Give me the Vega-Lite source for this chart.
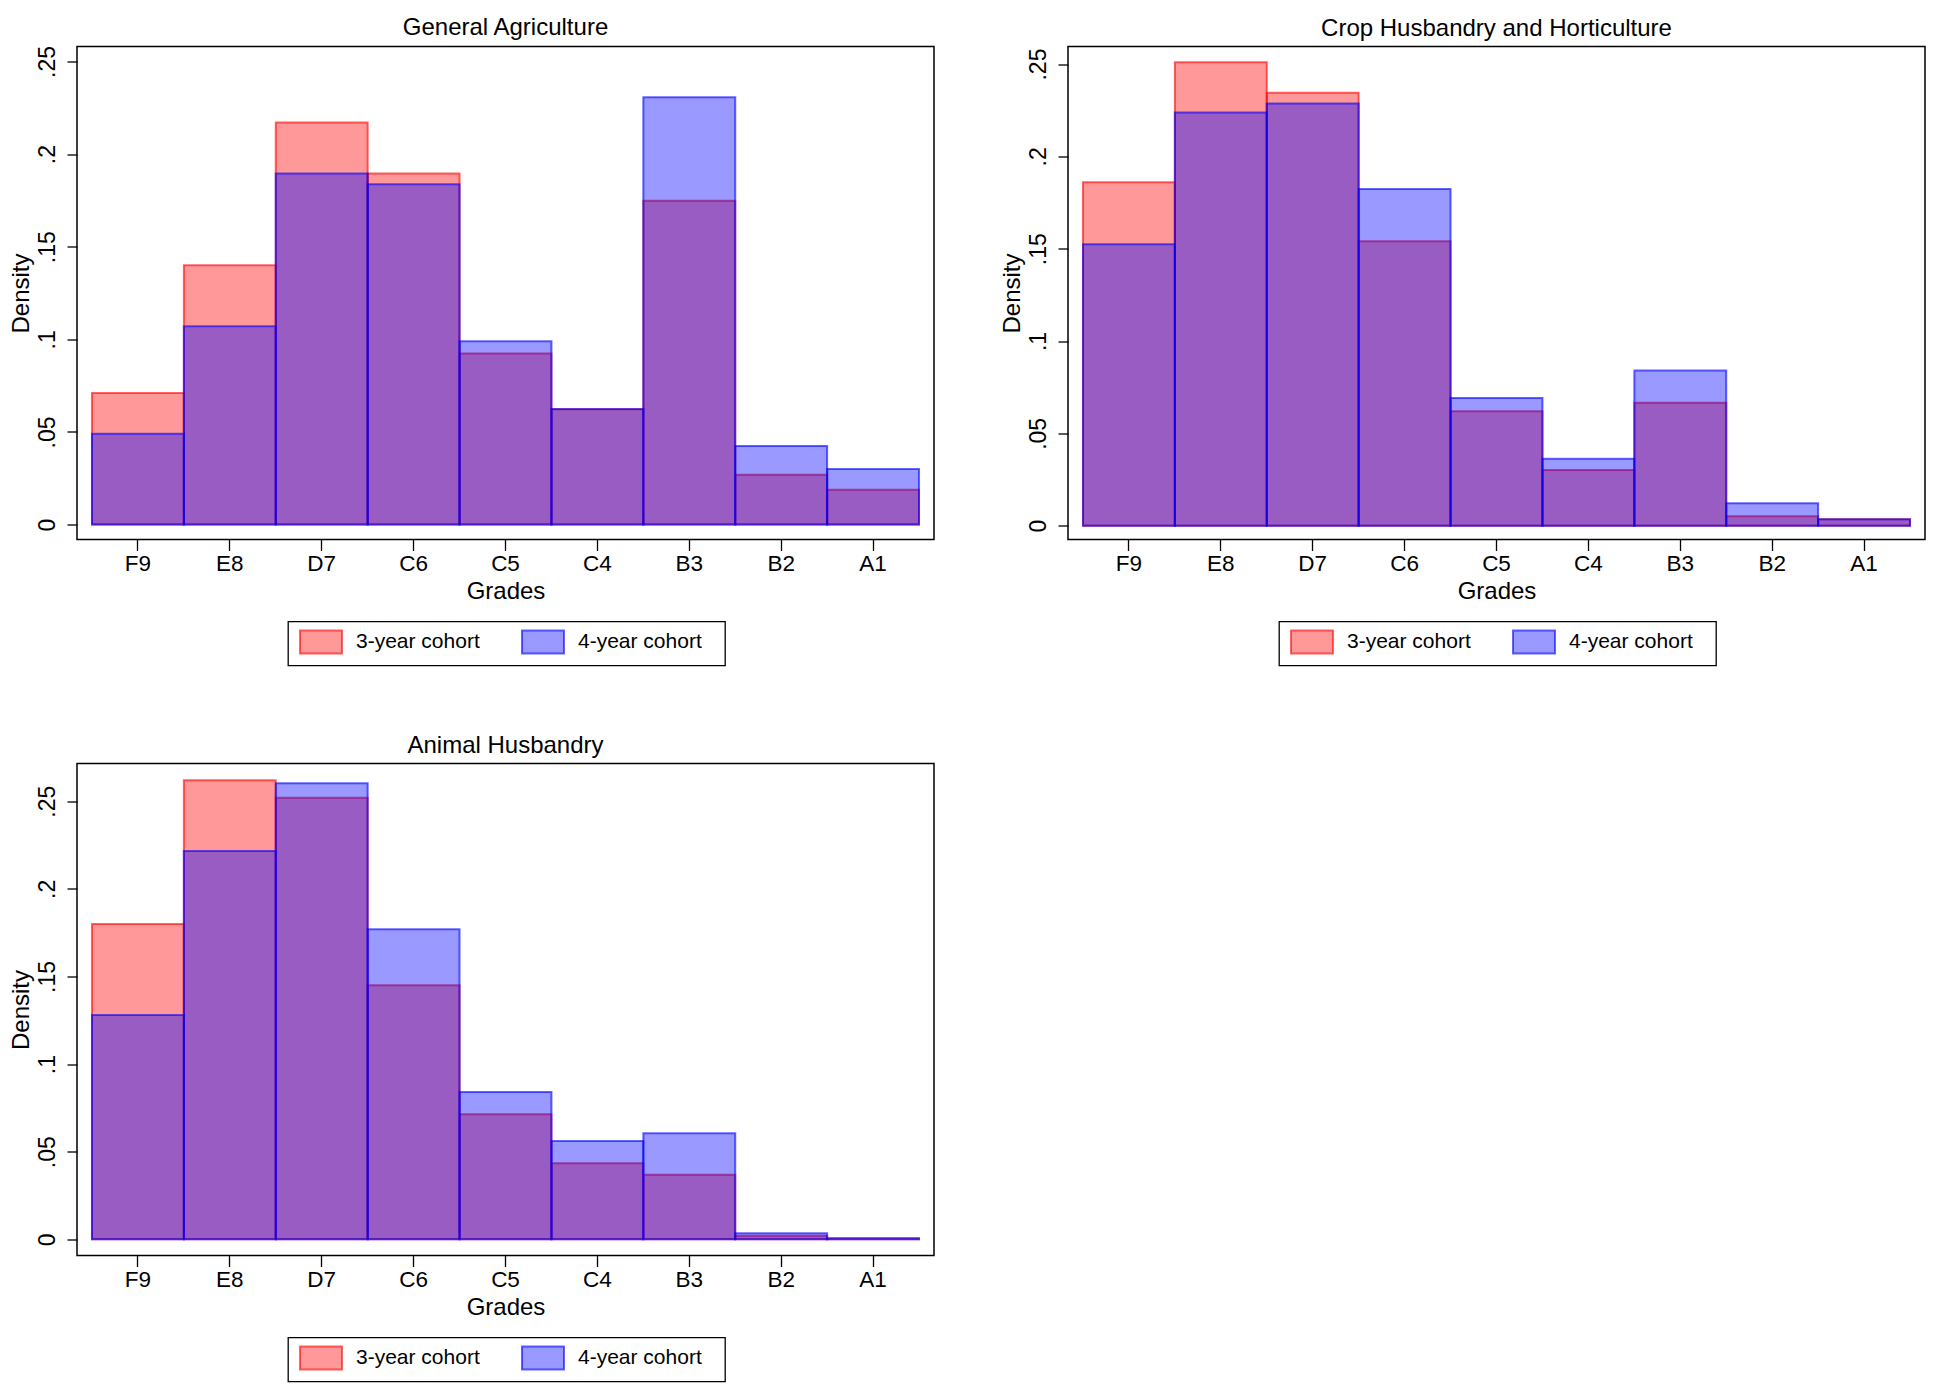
{
  "$schema": "https://vega.github.io/schema/vega-lite/v6.json",
  "description": "Density histograms of grades for the 3-year and 4-year cohorts, three subjects.",
  "padding": {"left": 8, "top": 14.5, "right": 5, "bottom": 5},
  "config": {
    "font": "Liberation Sans",
    "view": {"stroke": "black", "strokeWidth": 1.5, "fill": "white"},
    "axis": {
      "labelColor": "black",
      "titleColor": "black",
      "tickColor": "black",
      "tickWidth": 1.3,
      "labelFontSize": 22.5,
      "titleFontSize": 24,
      "titleFontWeight": "normal",
      "domain": false,
      "grid": false
    },
    "axisY": {"labelFontSize": 23},
    "title": {"fontSize": 24, "fontWeight": "normal", "color": "black", "anchor": "middle", "baseline": "alphabetic", "offset": 5.5},
    "legend": {"labelColor": "black"}
  },
  "datasets": {
    "hist": [
      {"subject": "General Agriculture", "grade": "F9", "cohort": "3-year cohort", "density": 0.071},
      {"subject": "General Agriculture", "grade": "E8", "cohort": "3-year cohort", "density": 0.140},
      {"subject": "General Agriculture", "grade": "D7", "cohort": "3-year cohort", "density": 0.217},
      {"subject": "General Agriculture", "grade": "C6", "cohort": "3-year cohort", "density": 0.1895},
      {"subject": "General Agriculture", "grade": "C5", "cohort": "3-year cohort", "density": 0.0923},
      {"subject": "General Agriculture", "grade": "C4", "cohort": "3-year cohort", "density": 0.0622},
      {"subject": "General Agriculture", "grade": "B3", "cohort": "3-year cohort", "density": 0.1748},
      {"subject": "General Agriculture", "grade": "B2", "cohort": "3-year cohort", "density": 0.0268},
      {"subject": "General Agriculture", "grade": "A1", "cohort": "3-year cohort", "density": 0.0188},
      {"subject": "General Agriculture", "grade": "F9", "cohort": "4-year cohort", "density": 0.049},
      {"subject": "General Agriculture", "grade": "E8", "cohort": "4-year cohort", "density": 0.107},
      {"subject": "General Agriculture", "grade": "D7", "cohort": "4-year cohort", "density": 0.1895},
      {"subject": "General Agriculture", "grade": "C6", "cohort": "4-year cohort", "density": 0.1837},
      {"subject": "General Agriculture", "grade": "C5", "cohort": "4-year cohort", "density": 0.099},
      {"subject": "General Agriculture", "grade": "C4", "cohort": "4-year cohort", "density": 0.0624},
      {"subject": "General Agriculture", "grade": "B3", "cohort": "4-year cohort", "density": 0.2307},
      {"subject": "General Agriculture", "grade": "B2", "cohort": "4-year cohort", "density": 0.0424},
      {"subject": "General Agriculture", "grade": "A1", "cohort": "4-year cohort", "density": 0.0299},
      {"subject": "Crop Husbandry and Horticulture", "grade": "F9", "cohort": "3-year cohort", "density": 0.186},
      {"subject": "Crop Husbandry and Horticulture", "grade": "E8", "cohort": "3-year cohort", "density": 0.251},
      {"subject": "Crop Husbandry and Horticulture", "grade": "D7", "cohort": "3-year cohort", "density": 0.2345},
      {"subject": "Crop Husbandry and Horticulture", "grade": "C6", "cohort": "3-year cohort", "density": 0.154},
      {"subject": "Crop Husbandry and Horticulture", "grade": "C5", "cohort": "3-year cohort", "density": 0.0619},
      {"subject": "Crop Husbandry and Horticulture", "grade": "C4", "cohort": "3-year cohort", "density": 0.0301},
      {"subject": "Crop Husbandry and Horticulture", "grade": "B3", "cohort": "3-year cohort", "density": 0.0665},
      {"subject": "Crop Husbandry and Horticulture", "grade": "B2", "cohort": "3-year cohort", "density": 0.0051},
      {"subject": "Crop Husbandry and Horticulture", "grade": "A1", "cohort": "3-year cohort", "density": 0.0034},
      {"subject": "Crop Husbandry and Horticulture", "grade": "F9", "cohort": "4-year cohort", "density": 0.1524},
      {"subject": "Crop Husbandry and Horticulture", "grade": "E8", "cohort": "4-year cohort", "density": 0.2238},
      {"subject": "Crop Husbandry and Horticulture", "grade": "D7", "cohort": "4-year cohort", "density": 0.2286},
      {"subject": "Crop Husbandry and Horticulture", "grade": "C6", "cohort": "4-year cohort", "density": 0.1823},
      {"subject": "Crop Husbandry and Horticulture", "grade": "C5", "cohort": "4-year cohort", "density": 0.0692},
      {"subject": "Crop Husbandry and Horticulture", "grade": "C4", "cohort": "4-year cohort", "density": 0.0362},
      {"subject": "Crop Husbandry and Horticulture", "grade": "B3", "cohort": "4-year cohort", "density": 0.084},
      {"subject": "Crop Husbandry and Horticulture", "grade": "B2", "cohort": "4-year cohort", "density": 0.0121},
      {"subject": "Crop Husbandry and Horticulture", "grade": "A1", "cohort": "4-year cohort", "density": 0.0034},
      {"subject": "Animal Husbandry", "grade": "F9", "cohort": "3-year cohort", "density": 0.1799},
      {"subject": "Animal Husbandry", "grade": "E8", "cohort": "3-year cohort", "density": 0.262},
      {"subject": "Animal Husbandry", "grade": "D7", "cohort": "3-year cohort", "density": 0.252},
      {"subject": "Animal Husbandry", "grade": "C6", "cohort": "3-year cohort", "density": 0.145},
      {"subject": "Animal Husbandry", "grade": "C5", "cohort": "3-year cohort", "density": 0.0714},
      {"subject": "Animal Husbandry", "grade": "C4", "cohort": "3-year cohort", "density": 0.0434},
      {"subject": "Animal Husbandry", "grade": "B3", "cohort": "3-year cohort", "density": 0.0369},
      {"subject": "Animal Husbandry", "grade": "B2", "cohort": "3-year cohort", "density": 0.002},
      {"subject": "Animal Husbandry", "grade": "A1", "cohort": "3-year cohort", "density": 0.0005},
      {"subject": "Animal Husbandry", "grade": "F9", "cohort": "4-year cohort", "density": 0.128},
      {"subject": "Animal Husbandry", "grade": "E8", "cohort": "4-year cohort", "density": 0.2216},
      {"subject": "Animal Husbandry", "grade": "D7", "cohort": "4-year cohort", "density": 0.2602},
      {"subject": "Animal Husbandry", "grade": "C6", "cohort": "4-year cohort", "density": 0.1769},
      {"subject": "Animal Husbandry", "grade": "C5", "cohort": "4-year cohort", "density": 0.0841},
      {"subject": "Animal Husbandry", "grade": "C4", "cohort": "4-year cohort", "density": 0.0561},
      {"subject": "Animal Husbandry", "grade": "B3", "cohort": "4-year cohort", "density": 0.0606},
      {"subject": "Animal Husbandry", "grade": "B2", "cohort": "4-year cohort", "density": 0.0035},
      {"subject": "Animal Husbandry", "grade": "A1", "cohort": "4-year cohort", "density": 0.0007}
    ]
  },
  "columns": 2,
  "spacing": {"row": 224, "column": 134},
  "bounds": "flush",
  "concat": [
    {
      "title": "General Agriculture",
      "width": 857,
      "height": 493,
      "data": {"name": "hist"},
      "transform": [{"filter": "datum.subject == 'General Agriculture'"}],
      "mark": {"type": "bar", "fillOpacity": 0.4, "strokeOpacity": 0.6, "strokeWidth": 2},
      "encoding": {
        "x": {
          "field": "grade", "type": "ordinal", "title": "Grades",
          "sort": ["F9", "E8", "D7", "C6", "C5", "C4", "B3", "B2", "A1"],
          "scale": {"paddingInner": 0, "paddingOuter": 0.163},
          "axis": {"labelAngle": 0, "bandPosition": 0.5, "tickSize": 11, "labelPadding": 2, "titlePadding": 4}
        },
        "y": {
          "field": "density", "type": "quantitative", "title": "Density", "stack": null,
          "scale": {"domain": [-0.0081, 0.2581], "nice": false, "zero": false},
          "axis": {"values": [0, 0.05, 0.1, 0.15, 0.2, 0.25], "labelExpr": "datum.value == 0 ? '0' : slice(format(datum.value, '~g'), 1)", "labelAngle": -90, "labelAlign": "center", "labelBaseline": "bottom", "tickSize": 10, "labelPadding": 8, "titlePadding": 3}
        },
        "y2": {"datum": 0},
        "fill": {
          "field": "cohort", "type": "nominal",
          "scale": {"domain": ["3-year cohort", "4-year cohort"], "range": ["#ff0000", "#0000ff"]},
          "legend": {"orient": "none", "legendX": 211, "legendY": 575, "direction": "horizontal", "title": null, "strokeColor": "black", "fillColor": "white", "padding": 8, "symbolOffset": 3, "symbolType": "M-1,-1H2.652V1H-1Z", "symbolSize": 529, "symbolStrokeWidth": 2, "labelFontSize": 21, "labelOffset": 32, "columnPadding": 23, "labelLimit": 400, "labelExpr": "datum.label + '\u2800'", "encode": {"legend": {"update": {"strokeWidth": {"value": 1.3}}}, "symbols": {"update": {"fillOpacity": {"value": 0.4}, "strokeOpacity": {"value": 0.6}}}}}
        },
        "stroke": {
          "field": "cohort", "type": "nominal",
          "scale": {"domain": ["3-year cohort", "4-year cohort"], "range": ["#ff0000", "#0000ff"]},
          "legend": {"orient": "none", "legendX": 211, "legendY": 575, "direction": "horizontal", "title": null, "strokeColor": "black", "fillColor": "white", "padding": 8, "symbolOffset": 3, "symbolType": "M-1,-1H2.652V1H-1Z", "symbolSize": 529, "symbolStrokeWidth": 2, "labelFontSize": 21, "labelOffset": 32, "columnPadding": 23, "labelLimit": 400, "labelExpr": "datum.label + '\u2800'", "encode": {"legend": {"update": {"strokeWidth": {"value": 1.3}}}, "symbols": {"update": {"fillOpacity": {"value": 0.4}, "strokeOpacity": {"value": 0.6}}}}}
        }
      }
    },
    {
      "title": "Crop Husbandry and Horticulture",
      "width": 857,
      "height": 493,
      "data": {"name": "hist"},
      "transform": [{"filter": "datum.subject == 'Crop Husbandry and Horticulture'"}],
      "mark": {"type": "bar", "fillOpacity": 0.4, "strokeOpacity": 0.6, "strokeWidth": 2},
      "encoding": {
        "x": {
          "field": "grade", "type": "ordinal", "title": "Grades",
          "sort": ["F9", "E8", "D7", "C6", "C5", "C4", "B3", "B2", "A1"],
          "scale": {"paddingInner": 0, "paddingOuter": 0.163},
          "axis": {"labelAngle": 0, "bandPosition": 0.5, "tickSize": 11, "labelPadding": 2, "titlePadding": 4}
        },
        "y": {
          "field": "density", "type": "quantitative", "title": "Density", "stack": null,
          "scale": {"domain": [-0.0075, 0.2595], "nice": false, "zero": false},
          "axis": {"values": [0, 0.05, 0.1, 0.15, 0.2, 0.25], "labelExpr": "datum.value == 0 ? '0' : slice(format(datum.value, '~g'), 1)", "labelAngle": -90, "labelAlign": "center", "labelBaseline": "bottom", "tickSize": 10, "labelPadding": 8, "titlePadding": 3}
        },
        "y2": {"datum": 0},
        "fill": {
          "field": "cohort", "type": "nominal",
          "scale": {"domain": ["3-year cohort", "4-year cohort"], "range": ["#ff0000", "#0000ff"]},
          "legend": {"orient": "none", "legendX": 211, "legendY": 575, "direction": "horizontal", "title": null, "strokeColor": "black", "fillColor": "white", "padding": 8, "symbolOffset": 3, "symbolType": "M-1,-1H2.652V1H-1Z", "symbolSize": 529, "symbolStrokeWidth": 2, "labelFontSize": 21, "labelOffset": 32, "columnPadding": 23, "labelLimit": 400, "labelExpr": "datum.label + '\u2800'", "encode": {"legend": {"update": {"strokeWidth": {"value": 1.3}}}, "symbols": {"update": {"fillOpacity": {"value": 0.4}, "strokeOpacity": {"value": 0.6}}}}}
        },
        "stroke": {
          "field": "cohort", "type": "nominal",
          "scale": {"domain": ["3-year cohort", "4-year cohort"], "range": ["#ff0000", "#0000ff"]},
          "legend": {"orient": "none", "legendX": 211, "legendY": 575, "direction": "horizontal", "title": null, "strokeColor": "black", "fillColor": "white", "padding": 8, "symbolOffset": 3, "symbolType": "M-1,-1H2.652V1H-1Z", "symbolSize": 529, "symbolStrokeWidth": 2, "labelFontSize": 21, "labelOffset": 32, "columnPadding": 23, "labelLimit": 400, "labelExpr": "datum.label + '\u2800'", "encode": {"legend": {"update": {"strokeWidth": {"value": 1.3}}}, "symbols": {"update": {"fillOpacity": {"value": 0.4}, "strokeOpacity": {"value": 0.6}}}}}
        }
      }
    },
    {
      "title": "Animal Husbandry",
      "width": 857,
      "height": 492,
      "data": {"name": "hist"},
      "transform": [{"filter": "datum.subject == 'Animal Husbandry'"}],
      "mark": {"type": "bar", "fillOpacity": 0.4, "strokeOpacity": 0.6, "strokeWidth": 2},
      "encoding": {
        "x": {
          "field": "grade", "type": "ordinal", "title": "Grades",
          "sort": ["F9", "E8", "D7", "C6", "C5", "C4", "B3", "B2", "A1"],
          "scale": {"paddingInner": 0, "paddingOuter": 0.163},
          "axis": {"labelAngle": 0, "bandPosition": 0.5, "tickSize": 11, "labelPadding": 2, "titlePadding": 4}
        },
        "y": {
          "field": "density", "type": "quantitative", "title": "Density", "stack": null,
          "scale": {"domain": [-0.0092, 0.2715], "nice": false, "zero": false},
          "axis": {"values": [0, 0.05, 0.1, 0.15, 0.2, 0.25], "labelExpr": "datum.value == 0 ? '0' : slice(format(datum.value, '~g'), 1)", "labelAngle": -90, "labelAlign": "center", "labelBaseline": "bottom", "tickSize": 10, "labelPadding": 8, "titlePadding": 3}
        },
        "y2": {"datum": 0},
        "fill": {
          "field": "cohort", "type": "nominal",
          "scale": {"domain": ["3-year cohort", "4-year cohort"], "range": ["#ff0000", "#0000ff"]},
          "legend": {"orient": "none", "legendX": 211, "legendY": 574, "direction": "horizontal", "title": null, "strokeColor": "black", "fillColor": "white", "padding": 8, "symbolOffset": 3, "symbolType": "M-1,-1H2.652V1H-1Z", "symbolSize": 529, "symbolStrokeWidth": 2, "labelFontSize": 21, "labelOffset": 32, "columnPadding": 23, "labelLimit": 400, "labelExpr": "datum.label + '\u2800'", "encode": {"legend": {"update": {"strokeWidth": {"value": 1.3}}}, "symbols": {"update": {"fillOpacity": {"value": 0.4}, "strokeOpacity": {"value": 0.6}}}}}
        },
        "stroke": {
          "field": "cohort", "type": "nominal",
          "scale": {"domain": ["3-year cohort", "4-year cohort"], "range": ["#ff0000", "#0000ff"]},
          "legend": {"orient": "none", "legendX": 211, "legendY": 574, "direction": "horizontal", "title": null, "strokeColor": "black", "fillColor": "white", "padding": 8, "symbolOffset": 3, "symbolType": "M-1,-1H2.652V1H-1Z", "symbolSize": 529, "symbolStrokeWidth": 2, "labelFontSize": 21, "labelOffset": 32, "columnPadding": 23, "labelLimit": 400, "labelExpr": "datum.label + '\u2800'", "encode": {"legend": {"update": {"strokeWidth": {"value": 1.3}}}, "symbols": {"update": {"fillOpacity": {"value": 0.4}, "strokeOpacity": {"value": 0.6}}}}}
        }
      }
    }
  ],
  "resolve": {
    "scale": {"x": "independent", "y": "independent"},
    "legend": {"fill": "independent", "stroke": "independent"}
  }
}
